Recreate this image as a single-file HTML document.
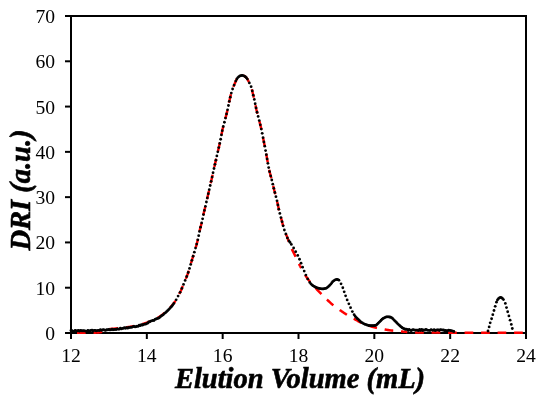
<!DOCTYPE html>
<html><head><meta charset="utf-8"><style>
html,body{margin:0;padding:0;background:#fff;}
body{width:550px;height:400px;overflow:hidden;}
svg{display:block;}
</style></head><body>
<svg width="550" height="400" viewBox="0 0 550 400">
<rect width="550" height="400" fill="#fff"/>
<g font-family="'Liberation Serif', 'Times New Roman', serif" font-size="19.6" fill="#000"><text x="55" y="340.00" text-anchor="end">0</text><text x="55" y="294.71" text-anchor="end">10</text><text x="55" y="249.43" text-anchor="end">20</text><text x="55" y="204.14" text-anchor="end">30</text><text x="55" y="158.86" text-anchor="end">40</text><text x="55" y="113.57" text-anchor="end">50</text><text x="55" y="68.29" text-anchor="end">60</text><text x="55" y="23.00" text-anchor="end">70</text><text x="71.00" y="362.3" text-anchor="middle">12</text><text x="146.83" y="362.3" text-anchor="middle">14</text><text x="222.67" y="362.3" text-anchor="middle">16</text><text x="298.50" y="362.3" text-anchor="middle">18</text><text x="374.33" y="362.3" text-anchor="middle">20</text><text x="450.17" y="362.3" text-anchor="middle">22</text><text x="526.00" y="362.3" text-anchor="middle">24</text></g>
<g font-family="'Liberation Serif', 'Times New Roman', serif" font-size="28.5" font-weight="bold" font-style="italic" fill="#000" stroke="#000" stroke-width="0.6">
<text x="300" y="387.5" text-anchor="middle">Elution Volume (mL)</text>
<text transform="translate(29.7,190) rotate(-90)" text-anchor="middle">DRI (a.u.)</text>
</g>
<g stroke="#000" stroke-width="2" fill="none">
<rect x="71" y="16" width="455" height="317"/>
<line x1="65" y1="333.00" x2="71" y2="333.00"/><line x1="65" y1="287.71" x2="71" y2="287.71"/><line x1="65" y1="242.43" x2="71" y2="242.43"/><line x1="65" y1="197.14" x2="71" y2="197.14"/><line x1="65" y1="151.86" x2="71" y2="151.86"/><line x1="65" y1="106.57" x2="71" y2="106.57"/><line x1="65" y1="61.29" x2="71" y2="61.29"/><line x1="65" y1="16.00" x2="71" y2="16.00"/><line x1="71.00" y1="333" x2="71.00" y2="339"/><line x1="146.83" y1="333" x2="146.83" y2="339"/><line x1="222.67" y1="333" x2="222.67" y2="339"/><line x1="298.50" y1="333" x2="298.50" y2="339"/><line x1="374.33" y1="333" x2="374.33" y2="339"/><line x1="450.17" y1="333" x2="450.17" y2="339"/><line x1="526.00" y1="333" x2="526.00" y2="339"/>
</g>
<g fill="none" stroke="#f00" stroke-width="2.5" stroke-dasharray="8.7 7.8"><path d="M71.00,332.80 L71.50,332.80 L72.00,332.80 L72.50,332.80 L73.00,332.80 L73.50,332.80 L74.00,332.80 L74.50,332.80 L75.00,332.80 L75.50,332.80 L76.00,332.80 L76.50,332.80 L77.00,332.80 L77.50,332.80 L78.00,332.80 L78.50,332.80 L79.00,332.80 L79.50,332.80 L80.00,332.80 L80.50,332.80 L81.00,332.80 L81.50,332.80 L82.00,332.80 L82.50,332.80 L83.00,332.80 L83.50,332.80 L84.00,332.80 L84.50,332.80 L85.00,332.80 L85.50,332.80 L86.00,332.80 L86.50,332.80 L87.00,332.80 L87.50,332.80 L88.00,332.80 L88.50,332.80 L89.00,332.80 L89.50,332.80 L90.00,332.80 L90.50,332.80 L91.00,332.79 L91.50,332.79 L92.00,332.78 L92.50,332.77 L93.00,332.75 L93.50,332.73 L94.00,332.71 L94.50,332.69 L95.00,332.67 L95.50,332.64 L96.00,332.61 L96.50,332.58 L97.00,332.54 L97.50,332.51 L98.00,332.47 L98.50,332.43 L99.00,332.39 L99.50,332.35 L100.00,332.30 L100.50,332.23 L101.00,332.14 L101.50,332.01 L102.00,331.86 L102.50,331.69 L103.00,331.51 L103.50,331.33 L104.00,331.15 L104.50,330.97 L105.00,330.80 L105.50,330.63 L106.00,330.44 L106.50,330.25 L107.00,330.05 L107.50,329.85 L108.00,329.66 L108.50,329.48 L109.00,329.33 L109.50,329.20 L110.00,329.10 L110.50,329.03 L111.00,328.96 L111.50,328.90 L112.00,328.85 L112.50,328.80 L113.00,328.76 L113.50,328.72 L114.00,328.67 L114.50,328.63 L115.00,328.59 L115.50,328.55 L116.00,328.50 L116.50,328.45 L117.00,328.40 L117.50,328.35 L118.00,328.31 L118.50,328.26 L119.00,328.21 L119.50,328.16 L120.00,328.11 L120.50,328.06 L121.00,328.01 L121.50,327.96 L122.00,327.90 L122.50,327.84 L123.00,327.78 L123.50,327.72 L124.00,327.66 L124.50,327.59 L125.00,327.53 L125.50,327.46 L126.00,327.39 L126.50,327.32 L127.00,327.25 L127.50,327.17 L128.00,327.10 L128.50,327.02 L129.00,326.95 L129.50,326.87 L130.00,326.79 L130.50,326.71 L131.00,326.63 L131.50,326.55 L132.00,326.46 L132.50,326.37 L133.00,326.29 L133.50,326.19 L134.00,326.10 L134.50,326.00 L135.00,325.90 L135.50,325.80 L136.00,325.69 L136.50,325.58 L137.00,325.47 L137.50,325.35 L138.00,325.24 L138.50,325.12 L139.00,324.99 L139.50,324.87 L140.00,324.74 L140.50,324.61 L141.00,324.47 L141.50,324.34 L142.00,324.20 L142.50,324.05 L143.00,323.91 L143.50,323.76 L144.00,323.61 L144.50,323.46 L145.00,323.30 L145.50,323.14 L146.00,322.97 L146.50,322.79 L147.00,322.60 L147.50,322.41 L148.00,322.21 L148.50,322.01 L149.00,321.81 L149.50,321.60 L150.00,321.40 L150.50,321.20 L151.00,320.99 L151.50,320.78 L152.00,320.57 L152.50,320.35 L153.00,320.13 L153.50,319.91 L154.00,319.68 L154.50,319.44 L155.00,319.20 L155.50,318.95 L156.00,318.70 L156.50,318.44 L157.00,318.17 L157.50,317.90 L158.00,317.61 L158.50,317.32 L159.00,317.03 L159.50,316.72 L160.00,316.40 L160.50,316.07 L161.00,315.73 L161.50,315.37 L162.00,315.01 L162.50,314.63 L163.00,314.24 L163.50,313.84 L164.00,313.43 L164.50,313.02 L165.00,312.60 L165.50,312.17 L166.00,311.73 L166.50,311.28 L167.00,310.82 L167.50,310.35 L168.00,309.87 L168.50,309.37 L169.00,308.86 L169.50,308.34 L170.00,307.80 L170.50,307.25 L171.00,306.68 L171.50,306.10 L172.00,305.51 L172.50,304.89 L173.00,304.26 L173.50,303.60 L174.00,302.93 L174.50,302.23 L175.00,301.50 L175.50,300.73 L176.00,299.90 L176.50,299.03 L177.00,298.13 L177.50,297.22 L178.00,296.30 L178.50,295.39 L179.00,294.46 L179.50,293.51 L180.00,292.53 L180.50,291.50 L181.00,290.40 L181.50,289.23 L182.00,288.03 L182.50,286.81 L183.00,285.60 L183.50,284.41 L184.00,283.23 L184.50,282.03 L185.00,280.83 L185.50,279.60 L186.00,278.37 L186.50,277.12 L187.00,275.84 L187.50,274.50 L188.00,273.07 L188.50,271.57 L189.00,270.02 L189.50,268.43 L190.00,266.77 L190.50,265.07 L191.00,263.35 L191.50,261.65 L192.00,259.96 L192.50,258.26 L193.00,256.58 L193.50,254.93 L194.00,253.32 L194.50,251.69 L195.00,250.00 L195.50,248.28 L196.00,246.55 L196.50,244.79 L197.00,242.96 L197.50,241.04 L198.00,239.00 L198.50,236.70 L199.00,234.18 L199.50,231.66 L200.00,229.37 L200.50,227.34 L201.00,225.45 L201.50,223.55 L202.00,221.53 L202.50,219.26 L203.00,216.80 L203.50,214.36 L204.00,212.10 L204.50,209.98 L205.00,207.92 L205.50,205.86 L206.00,203.75 L206.50,201.59 L207.00,199.42 L207.50,197.24 L208.00,195.07 L208.50,192.90 L209.00,190.73 L209.50,188.57 L210.00,186.39 L210.50,184.20 L211.00,182.00 L211.50,179.77 L212.00,177.52 L212.50,175.26 L213.00,172.99 L213.50,170.74 L214.00,168.50 L214.50,166.28 L215.00,164.08 L215.50,161.88 L216.00,159.69 L216.50,157.50 L217.00,155.31 L217.50,153.13 L218.00,150.99 L218.50,148.87 L219.00,146.75 L219.50,144.58 L220.00,142.34 L220.50,140.00 L221.00,137.41 L221.50,134.64 L222.00,131.94 L222.50,129.56 L223.00,127.48 L223.50,125.56 L224.00,123.72 L224.50,121.90 L225.00,120.00 L225.50,118.05 L226.00,116.11 L226.50,114.15 L227.00,112.12 L227.50,110.00 L228.00,107.70 L228.50,105.24 L229.00,102.78 L229.50,100.44 L230.00,98.27 L230.50,96.15 L231.00,94.15 L231.50,92.34 L232.00,90.74 L232.50,89.30 L233.00,87.95 L233.50,86.64 L234.00,85.34 L234.50,84.09 L235.00,82.90 L235.50,81.78 L236.00,80.68 L236.50,79.64 L237.00,78.74 L237.50,78.05 L238.00,77.45 L238.50,76.93 L239.00,76.51 L239.50,76.20 L240.00,75.96 L240.50,75.74 L241.00,75.57 L241.50,75.44 L242.00,75.40 L242.50,75.45 L243.00,75.57 L243.50,75.75 L244.00,75.96 L244.50,76.20 L245.00,76.50 L245.50,76.90 L246.00,77.39 L246.50,77.94 L247.00,78.56 L247.50,79.33 L248.00,80.23 L248.50,81.21 L249.00,82.20 L249.50,83.17 L250.00,84.15 L250.50,85.23 L251.00,86.45 L251.50,87.95 L252.00,89.86 L252.50,92.01 L253.00,94.18 L253.50,96.18 L254.00,98.16 L254.50,100.34 L255.00,102.76 L255.50,105.26 L256.00,107.72 L256.50,110.00 L257.00,112.05 L257.50,113.97 L258.00,115.83 L258.50,117.68 L259.00,119.60 L259.50,121.60 L260.00,123.61 L260.50,125.66 L261.00,127.78 L261.50,130.00 L262.00,132.38 L262.50,134.89 L263.00,137.46 L263.50,140.00 L264.00,142.47 L264.50,144.93 L265.00,147.42 L265.50,150.00 L266.00,152.72 L266.50,155.54 L267.00,158.35 L267.50,161.09 L268.00,163.85 L268.50,166.56 L269.00,169.08 L269.50,171.30 L270.00,173.29 L270.50,175.16 L271.00,176.97 L271.50,178.83 L272.00,180.81 L272.50,182.88 L273.00,185.00 L273.50,187.12 L274.00,189.19 L274.50,191.18 L275.00,193.08 L275.50,194.94 L276.00,196.82 L276.50,198.77 L277.00,200.85 L277.50,203.12 L278.00,205.47 L278.50,207.81 L279.00,210.00 L279.50,212.03 L280.00,213.98 L280.50,215.87 L281.00,217.74 L281.50,219.62 L282.00,221.53 L282.50,223.45 L283.00,225.32 L283.50,227.11 L284.00,228.85 L284.50,230.46 L285.00,231.83 L285.50,233.05 L286.00,234.20 L286.50,235.37 L287.00,236.65 L287.50,238.01 L288.00,239.39 L288.50,240.76 L289.00,242.10 L289.50,243.44 L290.00,244.76 L290.50,246.02 L291.00,247.19 L291.50,248.30 L292.00,249.35 L292.50,250.39 L293.00,251.41 L293.50,252.40 L294.00,253.38 L294.50,254.39 L295.00,255.46 L295.50,256.56 L296.00,257.70 L296.50,258.83 L297.00,259.94 L297.50,261.00 L298.00,262.02 L298.50,263.01 L299.00,263.98 L299.50,264.93 L300.00,265.87" stroke-dashoffset="10.50"/><path d="M300.00,265.87 L300.50,266.81 L301.00,267.75 L301.50,268.70 L302.00,269.64 L302.50,270.56 L303.00,271.47 L303.50,272.35 L304.00,273.20 L304.50,274.02 L305.00,274.81 L305.50,275.59 L306.00,276.34 L306.50,277.08 L307.00,277.80 L307.50,278.50 L308.00,279.19 L308.50,279.86 L309.00,280.51 L309.50,281.15 L310.00,281.77 L310.50,282.38 L311.00,282.98 L311.50,283.56 L312.00,284.13 L312.50,284.70 L313.00,285.26 L313.50,285.80 L314.00,286.35 L314.50,286.89 L315.00,287.42 L315.50,287.95 L316.00,288.48 L316.50,289.01 L317.00,289.54 L317.50,290.06 L318.00,290.57 L318.50,291.08 L319.00,291.59 L319.50,292.09 L320.00,292.60 L320.50,293.11 L321.00,293.61 L321.50,294.11 L322.00,294.62 L322.50,295.12 L323.00,295.62 L323.50,296.11 L324.00,296.61 L324.50,297.10 L325.00,297.60 L325.50,298.09 L326.00,298.57 L326.50,299.06 L327.00,299.54 L327.50,300.03 L328.00,300.51 L328.50,301.00 L329.00,301.48 L329.50,301.96 L330.00,302.43 L330.50,302.90 L331.00,303.35 L331.50,303.79 L332.00,304.21 L332.50,304.62 L333.00,305.02 L333.50,305.42 L334.00,305.80 L334.50,306.18 L335.00,306.56 L335.50,306.93 L336.00,307.30 L336.50,307.67 L337.00,308.03 L337.50,308.39 L338.00,308.75 L338.50,309.10 L339.00,309.45 L339.50,309.80 L340.00,310.15 L340.50,310.50 L341.00,310.85 L341.50,311.19 L342.00,311.54 L342.50,311.89 L343.00,312.23 L343.50,312.57 L344.00,312.91 L344.50,313.24 L345.00,313.57 L345.50,313.90 L346.00,314.22 L346.50,314.55 L347.00,314.87 L347.50,315.19 L348.00,315.50 L348.50,315.81 L349.00,316.12 L349.50,316.41 L350.00,316.70 L350.50,316.98 L351.00,317.24 L351.50,317.50 L352.00,317.75 L352.50,318.00 L353.00,318.25 L353.50,318.50 L354.00,318.76 L354.50,319.04 L355.00,319.32 L355.50,319.62 L356.00,319.91 L356.50,320.21 L357.00,320.49 L357.50,320.76 L358.00,321.03 L358.50,321.31 L359.00,321.57 L359.50,321.84 L360.00,322.10 L360.50,322.35 L361.00,322.60 L361.50,322.84 L362.00,323.08 L362.50,323.30 L363.00,323.52 L363.50,323.72 L364.00,323.93 L364.50,324.13 L365.00,324.32 L365.50,324.51 L366.00,324.69 L366.50,324.87 L367.00,325.05 L367.50,325.23 L368.00,325.40 L368.50,325.57 L369.00,325.74 L369.50,325.91 L370.00,326.08 L370.50,326.24 L371.00,326.41 L371.50,326.56 L372.00,326.72 L372.50,326.86 L373.00,327.01 L373.50,327.14 L374.00,327.27 L374.50,327.40 L375.00,327.52 L375.50,327.64 L376.00,327.75 L376.50,327.86 L377.00,327.97 L377.50,328.07 L378.00,328.18 L378.50,328.28 L379.00,328.38 L379.50,328.47 L380.00,328.57 L380.50,328.66 L381.00,328.76 L381.50,328.85 L382.00,328.94 L382.50,329.03 L383.00,329.13 L383.50,329.22 L384.00,329.31 L384.50,329.40 L385.00,329.50 L385.50,329.59 L386.00,329.68 L386.50,329.77 L387.00,329.85 L387.50,329.94 L388.00,330.02 L388.50,330.10 L389.00,330.18 L389.50,330.25 L390.00,330.31 L390.50,330.38 L391.00,330.44 L391.50,330.50 L392.00,330.55 L392.50,330.61 L393.00,330.66 L393.50,330.71 L394.00,330.76 L394.50,330.81 L395.00,330.86 L395.50,330.91 L396.00,330.95 L396.50,331.00 L397.00,331.05 L397.50,331.10 L398.00,331.14 L398.50,331.19 L399.00,331.24 L399.50,331.29 L400.00,331.34 L400.50,331.39 L401.00,331.44 L401.50,331.49 L402.00,331.54 L402.50,331.58 L403.00,331.63 L403.50,331.67 L404.00,331.71" stroke-dashoffset="6.13"/><path d="M404.00,331.71 L404.50,331.75 L405.00,331.79 L405.50,331.82 L406.00,331.85 L406.50,331.88 L407.00,331.92 L407.50,331.95 L408.00,331.98 L408.50,332.01 L409.00,332.05 L409.50,332.08 L410.00,332.11 L410.50,332.14 L411.00,332.17 L411.50,332.20 L412.00,332.22 L412.50,332.25 L413.00,332.28 L413.50,332.30 L414.00,332.33 L414.50,332.35 L415.00,332.37 L415.50,332.39 L416.00,332.41 L416.50,332.43 L417.00,332.44 L417.50,332.46 L418.00,332.47 L418.50,332.48 L419.00,332.49 L419.50,332.50 L420.00,332.50 L420.50,332.50 L421.00,332.51 L421.50,332.51 L422.00,332.51 L422.50,332.52 L423.00,332.52 L423.50,332.52 L424.00,332.53 L424.50,332.53 L425.00,332.53 L425.50,332.54 L426.00,332.54 L426.50,332.54 L427.00,332.55 L427.50,332.55 L428.00,332.55 L428.50,332.55 L429.00,332.56 L429.50,332.56 L430.00,332.56 L430.50,332.57 L431.00,332.57 L431.50,332.57 L432.00,332.58 L432.50,332.58 L433.00,332.58 L433.50,332.58 L434.00,332.59 L434.50,332.59 L435.00,332.59 L435.50,332.60 L436.00,332.60 L436.50,332.60 L437.00,332.60 L437.50,332.61 L438.00,332.61 L438.50,332.61 L439.00,332.61 L439.50,332.62 L440.00,332.62 L440.50,332.62 L441.00,332.62 L441.50,332.63 L442.00,332.63 L442.50,332.63 L443.00,332.63 L443.50,332.64 L444.00,332.64 L444.50,332.64 L445.00,332.64 L445.50,332.64 L446.00,332.65 L446.50,332.65 L447.00,332.65 L447.50,332.65 L448.00,332.66 L448.50,332.66 L449.00,332.66 L449.50,332.66 L450.00,332.66 L450.50,332.67 L451.00,332.67 L451.50,332.67 L452.00,332.67 L452.50,332.67 L453.00,332.68 L453.50,332.68 L454.00,332.68 L454.50,332.68 L455.00,332.68 L455.50,332.69 L456.00,332.69 L456.50,332.69 L457.00,332.69 L457.50,332.69 L458.00,332.70 L458.50,332.70 L459.00,332.70 L459.50,332.70 L460.00,332.70 L460.50,332.70 L461.00,332.71 L461.50,332.71 L462.00,332.71 L462.50,332.71 L463.00,332.71 L463.50,332.71 L464.00,332.72 L464.50,332.72 L465.00,332.72 L465.50,332.72 L466.00,332.72 L466.50,332.72 L467.00,332.72 L467.50,332.73 L468.00,332.73 L468.50,332.73 L469.00,332.73 L469.50,332.73 L470.00,332.73 L470.50,332.73 L471.00,332.74 L471.50,332.74 L472.00,332.74 L472.50,332.74 L473.00,332.74 L473.50,332.74 L474.00,332.74 L474.50,332.74 L475.00,332.75 L475.50,332.75 L476.00,332.75 L476.50,332.75 L477.00,332.75 L477.50,332.75 L478.00,332.75 L478.50,332.75 L479.00,332.76 L479.50,332.76 L480.00,332.76 L480.50,332.76 L481.00,332.76 L481.50,332.76 L482.00,332.76 L482.50,332.76 L483.00,332.76 L483.50,332.76 L484.00,332.77 L484.50,332.77 L485.00,332.77 L485.50,332.77 L486.00,332.77 L486.50,332.77 L487.00,332.77 L487.50,332.77 L488.00,332.77 L488.50,332.77 L489.00,332.77 L489.50,332.77 L490.00,332.78 L490.50,332.78 L491.00,332.78 L491.50,332.78 L492.00,332.78 L492.50,332.78 L493.00,332.78 L493.50,332.78 L494.00,332.78 L494.50,332.78 L495.00,332.78 L495.50,332.78 L496.00,332.78 L496.50,332.78 L497.00,332.78 L497.50,332.79 L498.00,332.79 L498.50,332.79 L499.00,332.79 L499.50,332.79 L500.00,332.79 L500.50,332.79 L501.00,332.79 L501.50,332.79 L502.00,332.79 L502.50,332.79 L503.00,332.79 L503.50,332.79 L504.00,332.79 L504.50,332.79 L505.00,332.79 L505.50,332.79 L506.00,332.79 L506.50,332.79 L507.00,332.79 L507.50,332.79 L508.00,332.79 L508.50,332.79 L509.00,332.80 L509.50,332.80 L510.00,332.80 L510.50,332.80 L511.00,332.80 L511.50,332.80 L512.00,332.80 L512.50,332.80 L513.00,332.80 L513.50,332.80 L514.00,332.80 L514.50,332.80 L515.00,332.80 L515.50,332.80 L516.00,332.80 L516.50,332.80 L517.00,332.80 L517.50,332.80 L518.00,332.80 L518.50,332.80 L519.00,332.80 L519.50,332.80 L520.00,332.80 L520.50,332.80 L521.00,332.80 L521.50,332.80 L522.00,332.80 L522.50,332.80 L523.00,332.80 L523.50,332.80 L524.00,332.80 L524.50,332.80 L525.00,332.80 L525.50,332.80 L526.00,332.80" stroke-dashoffset="5.38"/></g>
<g fill="#000"><circle cx="71.00" cy="330.50" r="1.4"/><circle cx="72.05" cy="330.68" r="1.4"/><circle cx="73.10" cy="331.34" r="1.4"/><circle cx="74.15" cy="331.07" r="1.4"/><circle cx="75.20" cy="330.47" r="1.4"/><circle cx="76.25" cy="330.87" r="1.4"/><circle cx="77.30" cy="330.91" r="1.4"/><circle cx="78.35" cy="330.51" r="1.4"/><circle cx="79.40" cy="331.19" r="1.4"/><circle cx="80.45" cy="330.43" r="1.4"/><circle cx="81.50" cy="330.75" r="1.4"/><circle cx="82.55" cy="330.88" r="1.4"/><circle cx="83.60" cy="330.76" r="1.4"/><circle cx="84.65" cy="330.93" r="1.4"/><circle cx="85.70" cy="331.09" r="1.4"/><circle cx="86.75" cy="331.33" r="1.4"/><circle cx="87.80" cy="330.50" r="1.4"/><circle cx="88.85" cy="330.91" r="1.4"/><circle cx="89.90" cy="330.94" r="1.4"/><circle cx="90.95" cy="330.42" r="1.4"/><circle cx="92.00" cy="330.04" r="1.4"/><circle cx="93.05" cy="331.17" r="1.4"/><circle cx="94.10" cy="330.32" r="1.4"/><circle cx="95.15" cy="330.30" r="1.4"/><circle cx="96.20" cy="330.95" r="1.4"/><circle cx="97.25" cy="330.53" r="1.4"/><circle cx="98.30" cy="330.35" r="1.4"/><circle cx="99.35" cy="330.66" r="1.4"/><circle cx="100.40" cy="329.72" r="1.4"/><circle cx="101.45" cy="330.47" r="1.4"/><circle cx="102.50" cy="330.01" r="1.4"/><circle cx="103.55" cy="329.60" r="1.4"/><circle cx="104.60" cy="330.22" r="1.4"/><circle cx="105.65" cy="330.47" r="1.4"/><circle cx="106.70" cy="329.53" r="1.4"/><circle cx="107.75" cy="329.96" r="1.4"/><circle cx="108.80" cy="329.48" r="1.4"/><circle cx="109.85" cy="329.93" r="1.4"/><circle cx="110.90" cy="329.83" r="1.4"/><circle cx="111.95" cy="329.13" r="1.4"/><circle cx="113.00" cy="329.78" r="1.4"/><circle cx="114.05" cy="329.48" r="1.4"/><circle cx="115.10" cy="329.41" r="1.4"/><circle cx="116.15" cy="329.48" r="1.4"/><circle cx="117.20" cy="328.90" r="1.4"/><circle cx="118.25" cy="329.19" r="1.4"/><circle cx="119.30" cy="329.22" r="1.4"/><circle cx="120.35" cy="328.18" r="1.4"/><circle cx="121.40" cy="328.96" r="1.4"/><circle cx="122.45" cy="328.29" r="1.4"/><circle cx="123.50" cy="328.26" r="1.4"/><circle cx="124.55" cy="327.73" r="1.4"/><circle cx="125.60" cy="328.26" r="1.4"/><circle cx="126.65" cy="327.64" r="1.4"/><circle cx="127.70" cy="328.20" r="1.4"/><circle cx="128.75" cy="327.34" r="1.4"/><circle cx="129.80" cy="327.54" r="1.4"/><circle cx="130.85" cy="327.19" r="1.4"/><circle cx="131.90" cy="327.28" r="1.4"/><circle cx="132.95" cy="326.61" r="1.4"/><circle cx="134.00" cy="326.41" r="1.4"/><circle cx="135.05" cy="326.89" r="1.4"/><circle cx="136.10" cy="326.67" r="1.4"/><circle cx="137.15" cy="326.21" r="1.4"/><circle cx="138.20" cy="326.37" r="1.4"/><circle cx="139.25" cy="325.23" r="1.4"/><circle cx="140.30" cy="325.70" r="1.4"/><circle cx="141.35" cy="324.57" r="1.4"/><circle cx="142.40" cy="325.20" r="1.4"/><circle cx="143.45" cy="324.45" r="1.4"/><circle cx="144.50" cy="324.09" r="1.4"/><circle cx="145.55" cy="324.18" r="1.4"/><circle cx="146.60" cy="323.58" r="1.4"/><circle cx="147.65" cy="323.19" r="1.4"/><circle cx="148.70" cy="321.89" r="1.4"/><circle cx="149.75" cy="321.85" r="1.4"/><circle cx="150.80" cy="321.09" r="1.4"/><circle cx="151.85" cy="320.79" r="1.4"/><circle cx="152.90" cy="320.37" r="1.4"/><circle cx="153.95" cy="320.56" r="1.4"/><circle cx="155.00" cy="319.34" r="1.4"/><circle cx="156.05" cy="318.99" r="1.4"/><circle cx="157.10" cy="318.61" r="1.4"/><circle cx="158.15" cy="318.31" r="1.4"/><circle cx="159.20" cy="317.76" r="1.4"/><circle cx="160.25" cy="316.88" r="1.4"/><circle cx="161.30" cy="315.83" r="1.4"/><circle cx="162.35" cy="315.27" r="1.4"/><circle cx="163.40" cy="314.54" r="1.4"/><circle cx="164.45" cy="313.34" r="1.4"/><circle cx="165.50" cy="312.75" r="1.4"/><circle cx="166.55" cy="311.66" r="1.4"/><circle cx="167.60" cy="310.74" r="1.4"/><circle cx="168.65" cy="309.70" r="1.4"/><circle cx="169.70" cy="308.57" r="1.4"/><circle cx="170.75" cy="307.36" r="1.4"/><circle cx="171.80" cy="306.13" r="1.4"/><circle cx="172.85" cy="304.79" r="1.4"/><circle cx="173.90" cy="303.41" r="1.4"/><circle cx="176.15" cy="299.84" r="1.4"/><circle cx="178.10" cy="296.11" r="1.4"/><circle cx="180.10" cy="292.33" r="1.4"/><circle cx="181.85" cy="288.39" r="1.4"/><circle cx="183.50" cy="284.41" r="1.4"/><circle cx="185.15" cy="280.46" r="1.4"/><circle cx="186.75" cy="276.49" r="1.4"/><circle cx="188.20" cy="272.48" r="1.4"/><circle cx="189.50" cy="268.43" r="1.4"/><circle cx="190.70" cy="264.38" r="1.4"/><circle cx="191.90" cy="260.30" r="1.4"/><circle cx="193.10" cy="256.25" r="1.4"/><circle cx="194.35" cy="252.18" r="1.4"/><circle cx="195.55" cy="248.11" r="1.4"/><circle cx="196.70" cy="244.06" r="1.4"/><circle cx="197.80" cy="239.83" r="1.4"/><circle cx="198.70" cy="235.71" r="1.4"/><circle cx="199.55" cy="231.42" r="1.4"/><circle cx="200.55" cy="227.15" r="1.4"/><circle cx="201.65" cy="222.96" r="1.4"/><circle cx="202.60" cy="218.78" r="1.4"/><circle cx="203.45" cy="214.59" r="1.4"/><circle cx="204.40" cy="210.40" r="1.4"/><circle cx="205.40" cy="206.28" r="1.4"/><circle cx="206.40" cy="202.02" r="1.4"/><circle cx="207.35" cy="197.89" r="1.4"/><circle cx="208.30" cy="193.76" r="1.4"/><circle cx="209.25" cy="189.65" r="1.4"/><circle cx="210.20" cy="185.52" r="1.4"/><circle cx="211.15" cy="181.33" r="1.4"/><circle cx="212.10" cy="177.07" r="1.4"/><circle cx="213.05" cy="172.77" r="1.4"/><circle cx="214.00" cy="168.50" r="1.4"/><circle cx="214.95" cy="164.30" r="1.4"/><circle cx="215.90" cy="160.13" r="1.4"/><circle cx="216.85" cy="155.97" r="1.4"/><circle cx="217.80" cy="151.84" r="1.4"/><circle cx="218.80" cy="147.60" r="1.4"/><circle cx="219.75" cy="143.47" r="1.4"/><circle cx="220.65" cy="139.26" r="1.4"/><circle cx="221.45" cy="134.92" r="1.4"/><circle cx="222.25" cy="130.69" r="1.4"/><circle cx="223.25" cy="126.50" r="1.4"/><circle cx="224.40" cy="122.27" r="1.4"/><circle cx="225.50" cy="118.05" r="1.4"/><circle cx="226.55" cy="113.95" r="1.4"/><circle cx="227.55" cy="109.78" r="1.4"/><circle cx="228.45" cy="105.49" r="1.4"/><circle cx="229.30" cy="101.35" r="1.4"/><circle cx="230.25" cy="97.20" r="1.4"/><circle cx="231.30" cy="93.04" r="1.4"/><circle cx="232.60" cy="89.02" r="1.4"/><circle cx="234.10" cy="85.09" r="1.4"/><circle cx="235.80" cy="81.12" r="1.4"/><circle cx="236.85" cy="78.99" r="1.4"/><circle cx="237.90" cy="77.56" r="1.4"/><circle cx="238.95" cy="76.54" r="1.4"/><circle cx="240.00" cy="75.96" r="1.4"/><circle cx="241.05" cy="75.55" r="1.4"/><circle cx="242.10" cy="75.40" r="1.4"/><circle cx="243.15" cy="75.62" r="1.4"/><circle cx="244.20" cy="76.06" r="1.4"/><circle cx="245.25" cy="76.69" r="1.4"/><circle cx="246.30" cy="77.72" r="1.4"/><circle cx="247.35" cy="79.08" r="1.4"/><circle cx="249.35" cy="82.88" r="1.4"/><circle cx="251.10" cy="86.72" r="1.4"/><circle cx="252.25" cy="90.92" r="1.4"/><circle cx="253.25" cy="95.20" r="1.4"/><circle cx="254.30" cy="99.44" r="1.4"/><circle cx="255.20" cy="103.76" r="1.4"/><circle cx="256.05" cy="107.96" r="1.4"/><circle cx="257.05" cy="112.25" r="1.4"/><circle cx="258.15" cy="116.38" r="1.4"/><circle cx="259.25" cy="120.60" r="1.4"/><circle cx="260.30" cy="124.83" r="1.4"/><circle cx="261.30" cy="129.10" r="1.4"/><circle cx="262.20" cy="133.37" r="1.4"/><circle cx="263.05" cy="137.72" r="1.4"/><circle cx="263.90" cy="141.98" r="1.4"/><circle cx="264.75" cy="146.17" r="1.4"/><circle cx="265.60" cy="150.53" r="1.4"/><circle cx="266.35" cy="154.69" r="1.4"/><circle cx="267.10" cy="158.91" r="1.4"/><circle cx="267.90" cy="163.30" r="1.4"/><circle cx="268.70" cy="167.59" r="1.4"/><circle cx="269.60" cy="171.71" r="1.4"/><circle cx="270.70" cy="175.88" r="1.4"/><circle cx="271.80" cy="180.00" r="1.4"/><circle cx="272.80" cy="184.15" r="1.4"/><circle cx="273.80" cy="188.37" r="1.4"/><circle cx="274.85" cy="192.52" r="1.4"/><circle cx="275.95" cy="196.63" r="1.4"/><circle cx="277.00" cy="200.85" r="1.4"/><circle cx="277.90" cy="205.00" r="1.4"/><circle cx="278.80" cy="209.15" r="1.4"/><circle cx="279.85" cy="213.40" r="1.4"/><circle cx="280.95" cy="217.56" r="1.4"/><circle cx="282.05" cy="221.72" r="1.4"/><circle cx="283.15" cy="225.86" r="1.4"/><circle cx="284.35" cy="229.99" r="1.4"/><circle cx="285.85" cy="233.99" r="1.4"/><circle cx="287.40" cy="237.94" r="1.4"/><circle cx="289.00" cy="240.99" r="1.4"/><circle cx="290.05" cy="242.47" r="1.4"/><circle cx="291.35" cy="244.38" r="1.4"/><circle cx="293.65" cy="247.99" r="1.4"/><circle cx="295.70" cy="251.66" r="1.4"/><circle cx="297.75" cy="255.40" r="1.4"/><circle cx="299.50" cy="259.24" r="1.4"/><circle cx="301.05" cy="263.16" r="1.4"/><circle cx="302.60" cy="267.15" r="1.4"/><circle cx="304.20" cy="271.11" r="1.4"/><circle cx="305.90" cy="275.07" r="1.4"/><circle cx="307.70" cy="278.88" r="1.4"/><circle cx="309.80" cy="282.38" r="1.4"/><circle cx="310.85" cy="283.78" r="1.4"/><circle cx="311.90" cy="284.80" r="1.4"/><circle cx="312.95" cy="285.66" r="1.4"/><circle cx="314.00" cy="286.36" r="1.4"/><circle cx="315.05" cy="286.92" r="1.4"/><circle cx="316.10" cy="287.40" r="1.4"/><circle cx="317.10" cy="287.80" r="1.4"/><circle cx="318.15" cy="288.17" r="1.4"/><circle cx="319.20" cy="288.45" r="1.4"/><circle cx="320.25" cy="288.64" r="1.4"/><circle cx="321.30" cy="288.78" r="1.4"/><circle cx="322.30" cy="288.88" r="1.4"/><circle cx="323.35" cy="288.89" r="1.4"/><circle cx="324.40" cy="288.72" r="1.4"/><circle cx="325.45" cy="288.42" r="1.4"/><circle cx="326.50" cy="288.03" r="1.4"/><circle cx="327.50" cy="287.36" r="1.4"/><circle cx="328.55" cy="286.42" r="1.4"/><circle cx="329.60" cy="285.39" r="1.4"/><circle cx="330.65" cy="284.28" r="1.4"/><circle cx="331.70" cy="282.93" r="1.4"/><circle cx="332.70" cy="281.71" r="1.4"/><circle cx="333.75" cy="280.80" r="1.4"/><circle cx="334.80" cy="280.11" r="1.4"/><circle cx="335.85" cy="279.58" r="1.4"/><circle cx="336.90" cy="279.40" r="1.4"/><circle cx="337.90" cy="279.65" r="1.4"/><circle cx="338.95" cy="280.20" r="1.4"/><circle cx="341.05" cy="283.80" r="1.4"/><circle cx="342.80" cy="287.74" r="1.4"/><circle cx="344.20" cy="291.80" r="1.4"/><circle cx="345.60" cy="295.86" r="1.4"/><circle cx="347.15" cy="299.88" r="1.4"/><circle cx="348.85" cy="303.83" r="1.4"/><circle cx="350.55" cy="307.71" r="1.4"/><circle cx="352.35" cy="311.57" r="1.4"/><circle cx="354.10" cy="314.67" r="1.4"/><circle cx="355.10" cy="316.07" r="1.4"/><circle cx="356.15" cy="317.35" r="1.4"/><circle cx="357.20" cy="318.44" r="1.4"/><circle cx="358.25" cy="319.35" r="1.4"/><circle cx="359.30" cy="320.39" r="1.4"/><circle cx="360.30" cy="321.40" r="1.4"/><circle cx="361.35" cy="322.30" r="1.4"/><circle cx="362.40" cy="322.97" r="1.4"/><circle cx="363.45" cy="323.55" r="1.4"/><circle cx="364.50" cy="324.06" r="1.4"/><circle cx="365.50" cy="324.46" r="1.4"/><circle cx="366.55" cy="324.82" r="1.4"/><circle cx="367.60" cy="325.18" r="1.4"/><circle cx="368.65" cy="325.48" r="1.4"/><circle cx="369.70" cy="325.67" r="1.4"/><circle cx="370.70" cy="325.70" r="1.4"/><circle cx="371.75" cy="325.68" r="1.4"/><circle cx="372.80" cy="325.65" r="1.4"/><circle cx="373.85" cy="325.59" r="1.4"/><circle cx="374.90" cy="325.52" r="1.4"/><circle cx="375.90" cy="325.28" r="1.4"/><circle cx="376.95" cy="324.47" r="1.4"/><circle cx="378.00" cy="323.39" r="1.4"/><circle cx="379.05" cy="322.36" r="1.4"/><circle cx="380.10" cy="321.33" r="1.4"/><circle cx="381.10" cy="320.27" r="1.4"/><circle cx="382.15" cy="319.22" r="1.4"/><circle cx="383.20" cy="318.41" r="1.4"/><circle cx="384.25" cy="317.85" r="1.4"/><circle cx="385.30" cy="317.33" r="1.4"/><circle cx="386.30" cy="316.96" r="1.4"/><circle cx="387.35" cy="316.80" r="1.4"/><circle cx="388.40" cy="316.86" r="1.4"/><circle cx="389.45" cy="317.02" r="1.4"/><circle cx="390.50" cy="317.26" r="1.4"/><circle cx="391.50" cy="317.62" r="1.4"/><circle cx="392.55" cy="318.48" r="1.4"/><circle cx="393.60" cy="319.59" r="1.4"/><circle cx="394.65" cy="320.63" r="1.4"/><circle cx="395.70" cy="321.69" r="1.4"/><circle cx="396.70" cy="322.73" r="1.4"/><circle cx="397.75" cy="323.80" r="1.4"/><circle cx="398.80" cy="324.78" r="1.4"/><circle cx="399.85" cy="325.75" r="1.4"/><circle cx="400.90" cy="326.70" r="1.4"/><circle cx="401.90" cy="327.51" r="1.4"/><circle cx="402.95" cy="328.17" r="1.4"/><circle cx="404.00" cy="328.70" r="1.4"/><circle cx="405.05" cy="329.23" r="1.4"/><circle cx="406.10" cy="329.17" r="1.4"/><circle cx="407.10" cy="329.33" r="1.4"/><circle cx="408.15" cy="330.59" r="1.4"/><circle cx="409.20" cy="329.32" r="1.4"/><circle cx="410.25" cy="330.36" r="1.4"/><circle cx="411.30" cy="330.71" r="1.4"/><circle cx="412.30" cy="329.86" r="1.4"/><circle cx="413.35" cy="329.64" r="1.4"/><circle cx="414.40" cy="330.16" r="1.4"/><circle cx="415.45" cy="330.06" r="1.4"/><circle cx="416.50" cy="330.19" r="1.4"/><circle cx="417.50" cy="330.07" r="1.4"/><circle cx="418.55" cy="330.70" r="1.4"/><circle cx="419.60" cy="329.48" r="1.4"/><circle cx="420.65" cy="330.62" r="1.4"/><circle cx="421.70" cy="329.37" r="1.4"/><circle cx="422.70" cy="330.63" r="1.4"/><circle cx="423.75" cy="329.79" r="1.4"/><circle cx="424.80" cy="330.36" r="1.4"/><circle cx="425.85" cy="329.36" r="1.4"/><circle cx="426.90" cy="330.00" r="1.4"/><circle cx="427.90" cy="330.35" r="1.4"/><circle cx="428.95" cy="330.30" r="1.4"/><circle cx="430.00" cy="330.57" r="1.4"/><circle cx="431.05" cy="329.68" r="1.4"/><circle cx="432.10" cy="330.04" r="1.4"/><circle cx="433.10" cy="330.36" r="1.4"/><circle cx="434.15" cy="329.55" r="1.4"/><circle cx="435.20" cy="330.70" r="1.4"/><circle cx="436.25" cy="330.12" r="1.4"/><circle cx="437.30" cy="329.90" r="1.4"/><circle cx="438.30" cy="329.88" r="1.4"/><circle cx="439.35" cy="330.49" r="1.4"/><circle cx="440.40" cy="329.66" r="1.4"/><circle cx="441.45" cy="329.95" r="1.4"/><circle cx="442.50" cy="330.05" r="1.4"/><circle cx="443.50" cy="330.01" r="1.4"/><circle cx="444.55" cy="330.69" r="1.4"/><circle cx="445.60" cy="330.52" r="1.4"/><circle cx="446.65" cy="330.99" r="1.4"/><circle cx="447.70" cy="330.74" r="1.4"/><circle cx="448.70" cy="330.22" r="1.4"/><circle cx="449.75" cy="330.33" r="1.4"/><circle cx="450.80" cy="330.67" r="1.4"/><circle cx="451.85" cy="330.78" r="1.4"/><circle cx="452.90" cy="331.04" r="1.4"/><circle cx="453.90" cy="331.50" r="1.4"/><circle cx="488.00" cy="331.00" r="1.4"/><circle cx="489.15" cy="326.92" r="1.4"/><circle cx="490.20" cy="322.85" r="1.4"/><circle cx="491.60" cy="318.73" r="1.4"/><circle cx="492.80" cy="314.71" r="1.4"/><circle cx="494.00" cy="310.50" r="1.4"/><circle cx="495.20" cy="306.29" r="1.4"/><circle cx="496.45" cy="302.15" r="1.4"/><circle cx="497.45" cy="299.98" r="1.4"/><circle cx="498.45" cy="298.65" r="1.4"/><circle cx="499.45" cy="297.79" r="1.4"/><circle cx="500.45" cy="297.40" r="1.4"/><circle cx="501.45" cy="297.73" r="1.4"/><circle cx="502.45" cy="298.39" r="1.4"/><circle cx="503.45" cy="299.56" r="1.4"/><circle cx="505.35" cy="303.44" r="1.4"/><circle cx="506.50" cy="307.55" r="1.4"/><circle cx="507.70" cy="311.75" r="1.4"/><circle cx="508.90" cy="315.95" r="1.4"/><circle cx="510.10" cy="320.15" r="1.4"/><circle cx="511.30" cy="324.38" r="1.4"/><circle cx="512.30" cy="328.50" r="1.4"/></g>
</svg>
</body></html>
